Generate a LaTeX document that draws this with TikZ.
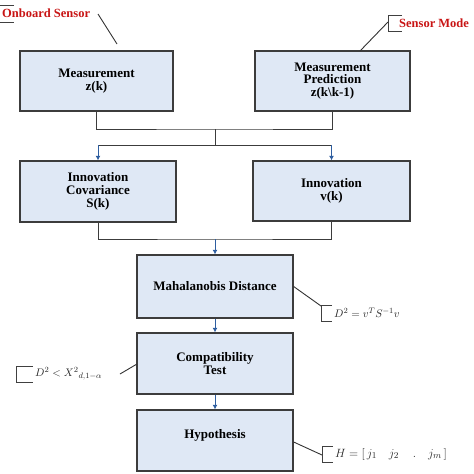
\documentclass[tikz,border=0pt]{standalone}
\usepackage{fontspec}
\setmainfont{Liberation Serif}
\usetikzlibrary{arrows.meta}
\definecolor{boxfill}{RGB}{223,232,245}
\definecolor{boxline}{RGB}{60,60,60}
\definecolor{arrowblue}{RGB}{46,94,160}
\definecolor{redtxt}{RGB}{200,20,20}
\tikzset{
  blk/.style={draw=boxline, fill=boxfill, line width=1.3pt, align=center,
    font=\fontsize{13}{12.7}\selectfont\bfseries, inner sep=0pt},
  conn/.style={draw=boxline, line width=1pt},
  arr/.style={draw=arrowblue, line width=1pt, -{Latex[length=4.5pt,width=5pt]}},
  brk/.style={draw=black!75, line width=1pt},
  lead/.style={draw=black!80, line width=0.9pt},
  redlab/.style={text=redtxt, font=\fontsize{12.5}{13}\selectfont\bfseries, inner sep=0pt},
  eq/.style={font=\fontsize{11}{13}\selectfont, inner sep=0pt, text=black!85}
}
\begin{document}
\begin{tikzpicture}[x=1pt,y=-1pt]
\useasboundingbox (0,0) rectangle (474,474);
% boxes
\node[blk, minimum width=153pt, minimum height=60pt] (meas) at (96.5,81) {Measurement\\z(k)};
\node[blk, minimum width=155pt, minimum height=60pt] (pred) at (332.5,81) {Measurement\\Prediction\\z(k\textbackslash k-1)};
\node[blk, minimum width=156pt, minimum height=61pt] (icov) at (98,191.5) {Innovation\\Covariance\\S(k)};
\node[blk, minimum width=157pt, minimum height=60pt] (innov) at (331.5,191) {Innovation\\v(k)};
\node[blk, minimum width=156pt, minimum height=63pt] (mahal) at (215,286.5) {Mahalanobis Distance};
\node[blk, minimum width=156pt, minimum height=61pt] (compat) at (215,363.5) {Compatibility\\Test};
\node[blk, minimum width=156pt, minimum height=61pt] (hyp) at (215,440.5) {Hypothesis\\\mbox{}};
% junctions
\coordinate (j1) at (215,129);
\coordinate (j2) at (215,145);
\coordinate (j3) at (215,239);
\draw[conn] (meas.south) |- (j1) -| (pred.south);
\draw[conn] (j1) -- (j2);
\draw[conn] (icov.north |- j2) -- (innov.north |- j2);
\draw[arr] (icov.north |- j2) -- (icov.north);
\draw[arr] (innov.north |- j2) -- (innov.north);
\draw[conn] (icov.south) |- (j3) -| (innov.south);
\draw[arr] (j3) -- (mahal.north);
\draw[arr] (mahal.south) -- (compat.north);
\draw[arr] (compat.south) -- (hyp.north);
% Onboard sensor annotation
\node[redlab, anchor=west] (onb) at (2,13.5) {Onboard Sensor};
\draw[brk] (14,5) -- (-1,5) -- (-1,22) -- (14,22);
\coordinate (onbA) at (98,14);
\coordinate (onbB) at (117,44);
\draw[lead] (onbA) -- (onbB);
% Sensor model annotation
\node[redlab, anchor=west] (smod) at (399,23.5) {Sensor Mode};
\draw[brk] (402,15) -- (388,15) -- (388,31) -- (402,31);
\coordinate (smA) at (388,22);
\coordinate (smB) at (360,51);
\draw[lead] (smA) -- (smB);
% Mahalanobis equation
\node[eq, anchor=west] (eqD) at (334,313) {$D^2 = v^T S^{-1}v$};
\draw[brk] (332,305) -- (321,305) -- (321,321) -- (332,321);
\coordinate (mdB) at (321,306);
\draw[lead] (mahal.east) -- (mdB);
% Compatibility equation
\node[eq, anchor=west] (eqC) at (35,374) {$D^2 < X^2{}_{d,1-\alpha}$};
\draw[brk] (33,366) -- (16,366) -- (16,382) -- (33,382);
\coordinate (cA) at (120,374);
\coordinate (cB) at (137,364);
\draw[lead] (cA) -- (cB);
% Hypothesis equation
\node[eq, anchor=west, font=\fontsize{12.5}{14}\selectfont] (eqH) at (335,454) {$H = \bigl[\,j_1 \hspace{12pt} j_2 \hspace{14pt} . \hspace{12pt} j_m\,\bigr]$};
\draw[brk] (333,446) -- (322,446) -- (322,462) -- (333,462);
\coordinate (hB) at (322,455);
\draw[lead] (hyp.east |- 0,442) -- (hB);
\end{tikzpicture}
\end{document}
